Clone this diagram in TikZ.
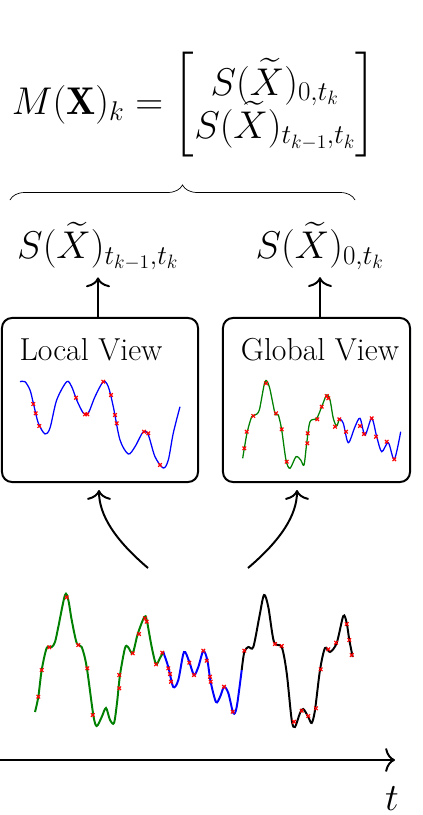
\RequirePackage{fix-cm}
\documentclass[tikz,border=0pt]{standalone}
\usepackage{amsmath}
\usepackage{fontspec}
\usetikzlibrary{arrows.meta,decorations.pathreplacing}
\definecolor{SeriesGreen}{HTML}{008000}
\definecolor{SeriesBlue}{HTML}{0000FF}
\definecolor{MarkRed}{HTML}{FF0000}

\begin{document}
\begin{tikzpicture}[x=0.025cm, y=-0.025cm,
    every node/.style={font=\fontsize{22.6}{26}\selectfont},
    mathtext/.style={font=\fontsize{27.5}{32}\selectfont},
    arr/.style={line width=1.4pt, -{To[length=7pt,width=17pt]}},
    viewbox/.style={draw, line width=1.4pt, rounded corners=0.25cm, minimum height=4.1cm},
    series/.style={line width=1.4pt},
    small series/.style={line width=0.9pt},
    marks/.style={MarkRed, line width=0.8pt, only marks, mark=x, mark size=1.8pt}]
    % =========================================
    % 1. canvas (pixel grid 422 x 815, y downwards)
    % =========================================
    \useasboundingbox (0,0) rectangle (422,815);

    % =========================================
    % 2. formula + brace
    % =========================================
    \node[mathtext] (formula) at (194,105) {\delimitershortfall=2pt$M(\mathbf{X})_k = \begin{bmatrix} S(\widetilde{X})_{0,t_k} \\[-5pt] S(\widetilde{X})_{t_{k-1},t_k} \end{bmatrix}$};

    \coordinate (braceW) at (10,200);
    \coordinate (braceE) at (355,200);
    \draw[line width=0.5pt, decorate, decoration={brace, amplitude=0.375cm}] (braceW) -- (braceE);

    % signature labels
    \node[mathtext, inner sep=0pt] (lsig) at (98,246) {$S(\widetilde{X})_{t_{k-1},t_k}$};
    \node[mathtext, inner sep=0pt] (gsig) at (320,246) {$S(\widetilde{X})_{0,t_k}$};

    % =========================================
    % 3. the two views
    % =========================================
    \node[viewbox, minimum width=4.9cm] (local) at (100,400) {};
    \node[viewbox, minimum width=4.675cm] (global) at (316.5,400) {};

    \node (ltitle) at (91,350) {Local View};
    \node (gtitle) at (320,350) {Global View};

    \draw[arr, shorten >=5pt] (lsig.south |- local.north) -- (lsig.south);
    \draw[arr, shorten >=5pt] (gsig.south |- global.north) -- (gsig.south);

    % local view curve
    \draw[SeriesBlue, small series] plot[smooth] coordinates {(20,381.7) (25,381.7) (30,390) (33.3,403) (38.3,423) (45,434) (50,428) (56.7,400) (66.7,381.7) (71.7,386.7) (76.7,400) (83.3,413) (88.3,413) (95,396.7) (103.3,381.7) (108.3,386.7) (113.3,406.7) (120,440) (128.3,454) (135,446.7) (143.3,431.7) (148.3,435) (155,456.7) (163.3,468) (168.3,460) (173.3,433) (180,406.7)};
    \draw[marks] plot coordinates {(33.3,404) (35.7,413.3) (39.3,426) (76,397.7) (85,414.3) (87.3,414.3) (103.3,381.7) (111,395) (115,415) (116.7,423.3) (144,431.7) (148.3,433.3) (160,465)};

    % global view curve
    \draw[SeriesGreen, small series] plot[smooth] coordinates {(242.7,458.3) (244.3,448.3) (247.3,431.7) (251.7,416.7) (255,415) (259.3,410) (265,381.7) (269.3,386.7) (275,413.3) (278.3,415) (281.7,430) (286,460) (290,468.3) (296,456.7) (300.7,460) (304,465) (306.7,443.3) (310,421.7) (316.7,418.3) (321.7,406.7) (326.7,395) (330,400) (333.3,418.3) (336.7,426) (339.3,418.3)};
    \draw[SeriesBlue, small series] plot[smooth] coordinates {(339.3,418.3) (343.3,423.3) (348.3,442.7) (355,426.7) (360,418.3) (365,435) (371.7,418.3) (376.7,436.7) (381.7,451.7) (388.3,442.7) (394.3,459.3) (400.7,431.7)};
    \draw[marks] plot coordinates {(244.3,448.3) (246.7,431.7) (253.3,416) (266,383.3) (276,413.3) (281.7,429.3) (286.7,461.7) (307.3,443.3) (307.7,433.3) (317.3,419.3) (321.7,406.7) (326.7,396) (328.3,398.3) (335,426.7) (339.3,419.3) (346,431.7) (360,426) (364,434) (371.7,418.3) (376,436.7) (386.7,441.7) (394.3,459.3)};

    % =========================================
    % 4. full stream + feed arrows
    % =========================================
    \coordinate (lfeed) at (148,568);
    \coordinate (gfeed) at (248,568);
    \coordinate (ltip) at (99,490);
    \coordinate (gtip) at (297,490);
    \draw[arr] (lfeed) .. controls (115,540) and (99,515) .. (ltip);
    \draw[arr] (gfeed) .. controls (281,540) and (297,515) .. (gtip);

    \draw[SeriesGreen, series] plot[smooth] coordinates {(35,712) (38.3,697) (41.7,670) (46.7,648) (51.7,647) (55,642) (58.3,627) (65,595) (68.3,600) (71.7,620) (76.7,643) (81.7,647) (86.7,667) (93.3,715) (96.7,726) (101.7,717) (106,708) (110,720) (114,723) (117,703) (120,675) (125,648) (128,647) (132.7,653) (137.7,634) (144.3,617) (146.7,620) (151.7,647) (156,664) (160,658) (163.3,652)};
    \draw[SeriesBlue, series] plot[smooth] coordinates {(163.3,652) (168.3,667) (173.3,687) (178.3,680) (184,652) (189.3,662) (194,675) (198.3,667) (203.3,651) (207.3,660) (210.7,682) (216,702) (220,697) (224,687) (228.3,693) (233.3,713) (236.7,707) (241.7,670)};
    \draw[black, series] plot[smooth] coordinates {(241.7,670) (244.3,652) (248.3,647) (253.3,647) (259.3,617) (264,595) (268.3,607) (274,642) (281.7,647) (286.7,673) (291.7,720) (295,727) (300,713) (303.3,709) (308.3,717) (311.7,723) (315,710) (320,670) (325,648) (330,652) (336.7,643) (343.3,616) (346.7,623) (349.3,640) (352.7,657)};
    \draw[marks] plot coordinates {(38.3,696.7) (41.7,670) (49.3,647.3) (66.7,597.3) (78.3,645) (87.3,668.3) (92.7,715) (119.3,675) (119.3,688.3) (132.7,653.3) (139,634) (145,618.3) (146.7,621.7) (156,664.3) (162.3,652.7) (168.3,668.3) (170,674) (171,681.7) (189.3,662.7) (194,675) (203.3,650.7) (206.7,660.7) (210,676.7) (210.7,681.7) (224,686.7) (232.7,711.7) (244.3,650.7) (275,644) (281.7,646) (294,721.7) (301.7,710.7) (308.3,716) (316,708.3) (320.7,669.3) (328.3,649.3) (336,642.7) (346.7,624) (349.3,640) (351.7,655)};

    % time axis
    \coordinate (t0) at (0,760);
    \coordinate (t1) at (395,760);
    \node[mathtext, inner sep=0pt] (tlabel) at (392,799) {$t$};
    \draw[arr] (t0) -- (t1);

\end{tikzpicture}
\end{document}
